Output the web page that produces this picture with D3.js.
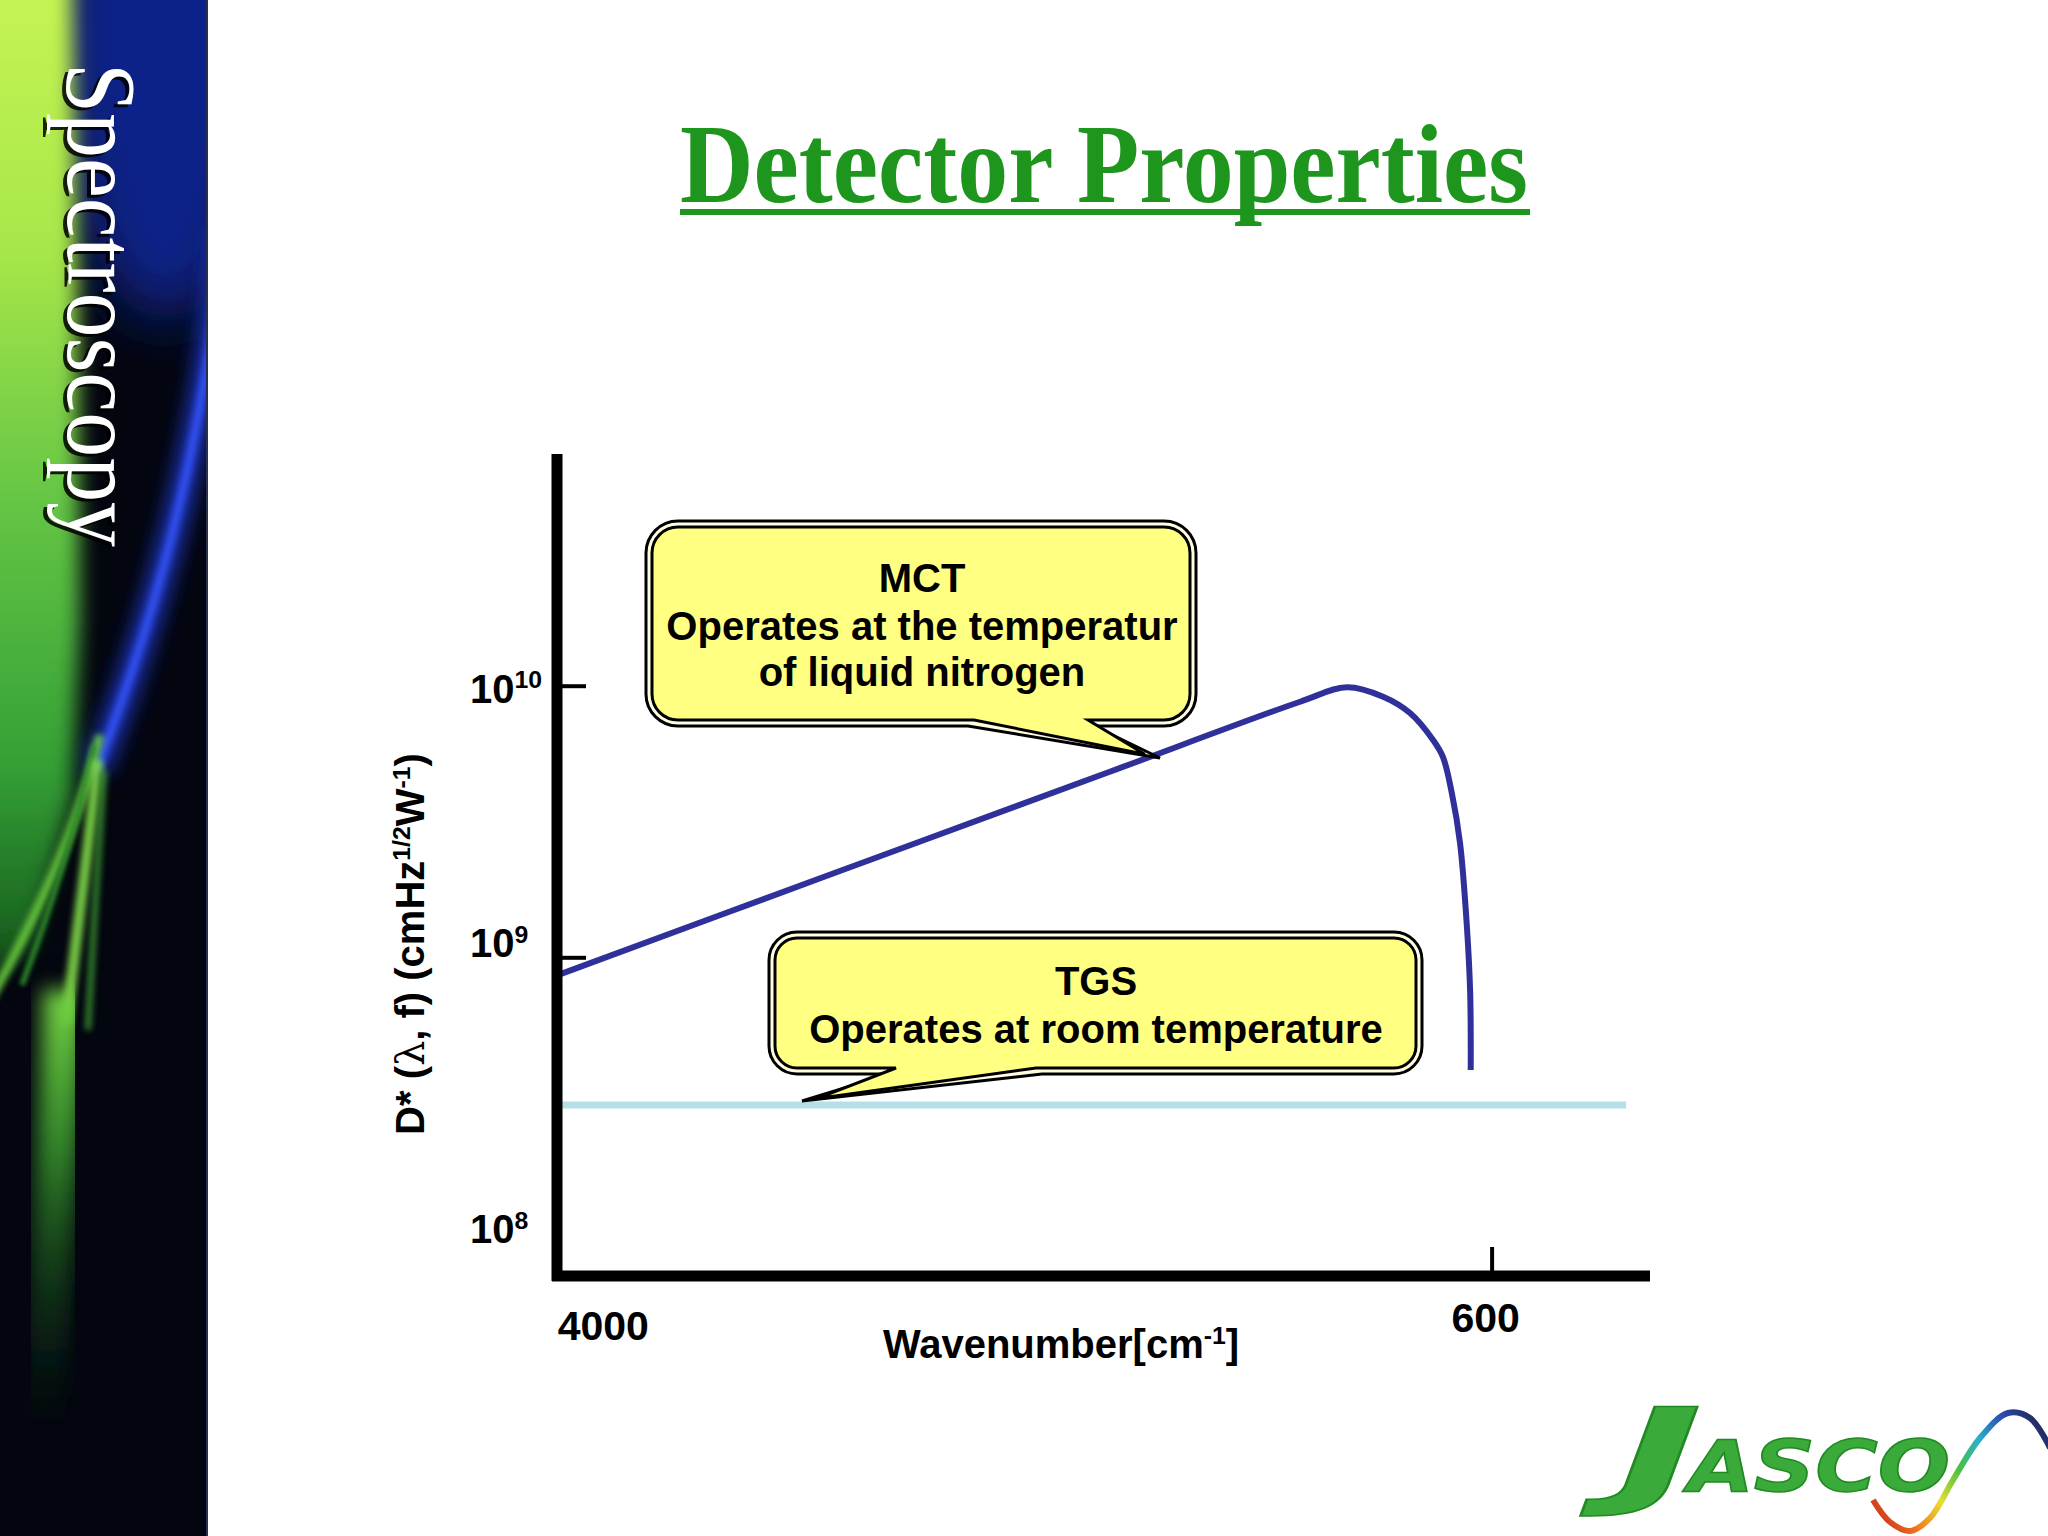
<!DOCTYPE html>
<html>
<head>
<meta charset="utf-8">
<script src="https://cdn.jsdelivr.net/npm/d3@7"></script>
<style>
  body { margin: 0; background: #fff; }
  svg { display: block; }
</style>
</head>
<body>
<script>
// ---- data ----
const wavenumberTicks = [4000, 600]
const detectivityTicks = [1e10, 1e9, 1e8]
const detectivityTickExp = ["10", "9", "8"]

// MCT detector curve (wavenumber cm-1, D*)
const mctWavenumber = [4000, 3000, 2000, 1297, 1127, 995, 897, 813, 777, 745, 715, 690, 678, 676]
const mctDetectivity = [8.6e8, 2.03e9, 4.78e9, 8.73e9, 9.87e9, 9.11e9, 7.93e9, 6.31e9, 5.46e9, 4.03e9, 2.64e9, 1.30e9, 7.4e8, 3.85e8]

// TGS detector (flat)
const tgsWavenumber = [4000, 110]
const tgsDetectivity = [2.86e8, 2.86e8]

const mctLines = ["MCT", "Operates at the temperatur", "of liquid nitrogen"]
const tgsLines = ["TGS", "Operates at room temperature"]

// ---- layout ----
const W = 2048, H = 1536
const SIDEBAR_W = 208
const SANS = "'Liberation Sans', Arial, sans-serif"
const SERIF = "'Liberation Serif', 'Times New Roman', serif"
const tickLabelDy = [17, 0, 14]

const svg = d3.select("body").append("svg").attr("width", W).attr("height", H)
svg.append("rect").attr("width", W).attr("height", H).attr("fill", "#fff")

const defs = svg.append("defs")
function blur(id, sd) {
  defs.append("filter").attr("id", id)
    .attr("x", "-50%").attr("y", "-50%").attr("width", "200%").attr("height", "200%")
    .append("feGaussianBlur").attr("stdDeviation", sd)
}
blur("b30", 30); blur("b14", 14); blur("b10", 10); blur("b6", 6); blur("b3", 3); blur("b2", 2)

// ---- sidebar artwork ----
defs.append("clipPath").attr("id", "sideClip")
  .append("rect").attr("width", SIDEBAR_W).attr("height", H)

const greenGrad = defs.append("linearGradient").attr("id", "greenGrad")
  .attr("gradientUnits", "userSpaceOnUse").attr("x1", 0).attr("y1", 0).attr("x2", 0).attr("y2", 1020)
;[[0, "#c4f452"], [0.25, "#a6e64a"], [0.5, "#62c444"], [0.75, "#35a035"], [0.9, "#1c6a22"], [1, "#0a2a10"]]
  .forEach(([o, c]) => greenGrad.append("stop").attr("offset", o).attr("stop-color", c))

const bandGrad = defs.append("linearGradient").attr("id", "bandGrad")
  .attr("gradientUnits", "userSpaceOnUse").attr("x1", 0).attr("y1", 990).attr("x2", 0).attr("y2", 1440)
;[[0, "#74d442", 1], [0.35, "#3a9a2e", 0.85], [0.7, "#15501a", 0.5], [1, "#0a2a10", 0]]
  .forEach(([o, c, a]) => bandGrad.append("stop").attr("offset", o).attr("stop-color", c).attr("stop-opacity", a))

const side = svg.append("g").attr("clip-path", "url(#sideClip)")
side.append("rect").attr("width", SIDEBAR_W).attr("height", H).attr("fill", "#03050f")
side.append("ellipse").attr("cx", 165).attr("cy", 20).attr("rx", 110).attr("ry", 300)
  .attr("fill", "#0d2488").attr("filter", "url(#b30)")
side.append("path")
  .attr("d", "M-40,-40 L72,-40 L78,300 L80,620 L72,800 L30,950 L-40,1000 Z")
  .attr("fill", "url(#greenGrad)").attr("filter", "url(#b10)")

// blue streak
const streak = "M224,230 C205,440 155,620 96,770"
side.append("path").attr("d", streak)
  .attr("fill", "none").attr("stroke", "#1a36c0").attr("stroke-width", 24).attr("filter", "url(#b10)")
side.append("path").attr("d", streak)
  .attr("fill", "none").attr("stroke", "#3050f0").attr("stroke-width", 9).attr("filter", "url(#b3)")

// green wisps
const wisps = [
  ["M100,735 C78,825 38,915 -10,1000", "#6ccf40", 9, "b3"],
  ["M94,745 C76,830 52,905 22,985", "#2f8a2c", 6, "b2"],
  ["M98,760 C88,850 76,940 66,1025", "#80da48", 11, "b3"],
  ["M104,770 C98,860 92,950 88,1030", "#3a9a30", 6, "b3"]
]
wisps.forEach(([d, c, w, f]) => side.append("path").attr("d", d)
  .attr("fill", "none").attr("stroke", c).attr("stroke-width", w).attr("filter", `url(#${f})`).attr("opacity", 0.9))
side.append("path").attr("d", "M64,990 C60,1130 52,1270 42,1440")
  .attr("fill", "none").attr("stroke", "url(#bandGrad)").attr("stroke-width", 42).attr("filter", "url(#b10)")
side.append("line").attr("x1", SIDEBAR_W - 1).attr("x2", SIDEBAR_W - 1).attr("y1", 0).attr("y2", H)
  .attr("stroke", "#2a3050").attr("stroke-width", 2)

// vertical caption
const cap = side.append("g").attr("transform", "translate(68,63) rotate(90)")
cap.append("text").attr("x", 3).attr("y", 4).text("Spectroscopy")
  .attr("font-family", SERIF).attr("font-size", 100).attr("fill", "#000").attr("opacity", 0.85)
  .attr("textLength", 484).attr("lengthAdjust", "spacingAndGlyphs")
cap.append("text").text("Spectroscopy")
  .attr("font-family", SERIF).attr("font-size", 100).attr("fill", "#fff")
  .attr("textLength", 484).attr("lengthAdjust", "spacingAndGlyphs")

// ---- title ----
svg.append("text").attr("x", 680).attr("y", 202).text("Detector Properties")
  .attr("font-family", SERIF).attr("font-weight", "bold").attr("font-size", 112)
  .attr("fill", "#1e961e").attr("textLength", 848).attr("lengthAdjust", "spacingAndGlyphs")
svg.append("rect").attr("x", 680).attr("y", 209).attr("width", 850).attr("height", 6).attr("fill", "#1e961e")

// ---- scales ----
const x = d3.scaleLinear().domain([4000, 600]).range([557.7, 1491.6])
const y = d3.scaleLog().domain([1e8, 1e10]).range([1228.9, 685.7])
const AX_X = 557, AX_Y = 1276, AX_TOP = 454, AX_RIGHT = 1650

const chart = svg.append("g")

// TGS line
const line = d3.line().x((d) => x(d[0])).y((d) => y(d[1]))
chart.append("path")
  .attr("d", line(d3.zip(tgsWavenumber, tgsDetectivity)))
  .attr("fill", "none").attr("stroke", "#b6dfe7").attr("stroke-width", 7)

// MCT curve
chart.append("path")
  .attr("d", line.curve(d3.curveCatmullRom.alpha(0.5))(d3.zip(mctWavenumber, mctDetectivity)))
  .attr("fill", "none").attr("stroke", "#30309a").attr("stroke-width", 6)
  .attr("stroke-linejoin", "round")

// axes
const yAxis = chart.append("g").attr("transform", `translate(${AX_X + 5},0)`)
  .call(d3.axisLeft(y).tickValues(detectivityTicks.slice(0, 2)).tickSize(-24).tickFormat(""))
yAxis.select(".domain").remove()
yAxis.selectAll(".tick line").attr("stroke", "#000").attr("stroke-width", 4)

const xAxis = chart.append("g").attr("transform", `translate(0,${AX_Y - 5})`)
  .call(d3.axisBottom(x).tickValues(wavenumberTicks.slice(1)).tickSize(-24).tickFormat(""))
xAxis.select(".domain").remove()
xAxis.selectAll(".tick line").attr("stroke", "#000").attr("stroke-width", 4)

chart.append("line").attr("x1", AX_X).attr("x2", AX_X).attr("y1", AX_TOP).attr("y2", AX_Y + 5)
  .attr("stroke", "#000").attr("stroke-width", 11)
chart.append("line").attr("x1", AX_X - 5).attr("x2", AX_RIGHT).attr("y1", AX_Y).attr("y2", AX_Y)
  .attr("stroke", "#000").attr("stroke-width", 11)

// rich text helper: parts = [text | {t, sup, weight, family}]
function rich(g, parts, size) {
  const t = g.append("text").attr("font-family", SANS).attr("font-weight", "bold").attr("font-size", size)
  let raised = false
  parts.forEach((p) => {
    const o = typeof p === "string" ? { t: p } : p
    const s = t.append("tspan").text(o.t)
    if (o.sup && !raised) { s.attr("dy", -size * 0.36).attr("font-size", size * 0.62); raised = true }
    else if (!o.sup && raised) { s.attr("dy", size * 0.36); raised = false }
    else if (o.sup) s.attr("font-size", size * 0.62)
    if (o.weight) s.attr("font-weight", o.weight)
    if (o.family) s.attr("font-family", o.family)
  })
  return t
}

// y tick labels
detectivityTicks.forEach((v, i) => {
  rich(chart.append("g").attr("transform", `translate(470,${y(v) + tickLabelDy[i]})`),
    ["10", { t: detectivityTickExp[i], sup: true }], 40)
})

// x tick labels
chart.append("text").attr("x", x(wavenumberTicks[0])).attr("y", 1340).text(wavenumberTicks[0])
  .attr("font-family", SANS).attr("font-weight", "bold").attr("font-size", 41)
chart.append("text").attr("x", x(wavenumberTicks[1]) - 6).attr("y", 1332).text(wavenumberTicks[1])
  .attr("text-anchor", "middle")
  .attr("font-family", SANS).attr("font-weight", "bold").attr("font-size", 41)

// axis titles
rich(chart.append("g").attr("transform", "translate(1061,1358)"),
  ["Wavenumber[cm", { t: "-1", sup: true }, "]"], 40).attr("text-anchor", "middle")
rich(chart.append("g").attr("transform", "translate(424,944) rotate(-90)"),
  ["D* (", { t: "λ", weight: "normal", family: "'DejaVu Serif', serif" }, ",  f) (cmHz",
    { t: "1/2", sup: true }, "W", { t: "-1", sup: true }, ")"], 40).attr("text-anchor", "middle")

// ---- callouts ----
function calloutPath(b, i) {
  const x0 = b.x0 + i, y0 = b.y0 + i, x1 = b.x1 - i, y1 = b.y1 - i, r = b.r - i
  const cx = (b.baseL + b.baseR + b.tip[0]) / 3, cy = (2 * b.y1 + b.tip[1]) / 3
  const dx = cx - b.tip[0], dy = cy - b.tip[1], len = Math.hypot(dx, dy)
  const tx = b.tip[0] + dx / len * i * 2.6, ty = b.tip[1] + dy / len * i * 2.6
  return `M${x0 + r},${y0} H${x1 - r} A${r},${r} 0 0 1 ${x1},${y0 + r} V${y1 - r}` +
    ` A${r},${r} 0 0 1 ${x1 - r},${y1} H${b.baseR - i} L${tx},${ty} L${b.baseL + i},${y1}` +
    ` H${x0 + r} A${r},${r} 0 0 1 ${x0},${y1 - r} V${y0 + r} A${r},${r} 0 0 1 ${x0 + r},${y0} Z`
}
function callout(b, lines, cxText, baselines) {
  const g = svg.append("g")
  g.append("path").attr("d", calloutPath(b, 0)).attr("fill", "#fffde0").attr("stroke", "#000").attr("stroke-width", 3)
  g.append("path").attr("d", calloutPath(b, 6)).attr("fill", "#ffff82").attr("stroke", "#000").attr("stroke-width", 3)
  lines.forEach((l, k) => {
    g.append("text").attr("x", cxText).attr("y", baselines[k]).text(l)
      .attr("text-anchor", "middle").attr("font-family", SANS).attr("font-weight", "bold").attr("font-size", 40)
  })
}
callout({ x0: 646, y0: 521, x1: 1196, y1: 726, r: 32, baseL: 968, baseR: 1094, tip: [1160, 758] },
  mctLines, 922, [592, 640, 686])
callout({ x0: 769, y0: 932, x1: 1422, y1: 1074, r: 28, baseL: 890, baseR: 1042, tip: [802, 1101] },
  tgsLines, 1096, [995, 1043])

// ---- logo ----
const rainbow = defs.append("linearGradient").attr("id", "rainbow")
  .attr("gradientUnits", "userSpaceOnUse").attr("x1", 1880).attr("y1", 1530).attr("x2", 2045).attr("y2", 1420)
;["#c82a1e", "#f07a1e", "#e8de30", "#4cc040", "#2ab0cc", "#2a4ab0", "#22224a"]
  .forEach((c, k, a) => rainbow.append("stop").attr("offset", k / (a.length - 1)).attr("stop-color", c))
svg.append("path")
  .attr("d", d3.line().curve(d3.curveCatmullRom)([[1873, 1500], [1890, 1522], [1910, 1531], [1930, 1518],
    [1953, 1480], [1980, 1438], [2008, 1413], [2030, 1418], [2050, 1448]]))
  .attr("fill", "none").attr("stroke", "url(#rainbow)").attr("stroke-width", 6)
const logo = svg.append("g").attr("font-family", "'DejaVu Sans', sans-serif").attr("font-weight", "bold")
  .attr("font-style", "italic").attr("fill", "#3aaa3a").attr("stroke", "#228a22").attr("stroke-width", 1.5)
logo.append("text").attr("x", 1618).attr("y", 1492).attr("font-size", 118).text("J")
  .attr("textLength", 84).attr("lengthAdjust", "spacingAndGlyphs")
logo.append("text").attr("x", 1688).attr("y", 1491).attr("font-size", 72).text("ASCO")
  .attr("textLength", 262).attr("lengthAdjust", "spacingAndGlyphs")
</script>
</body>
</html>
